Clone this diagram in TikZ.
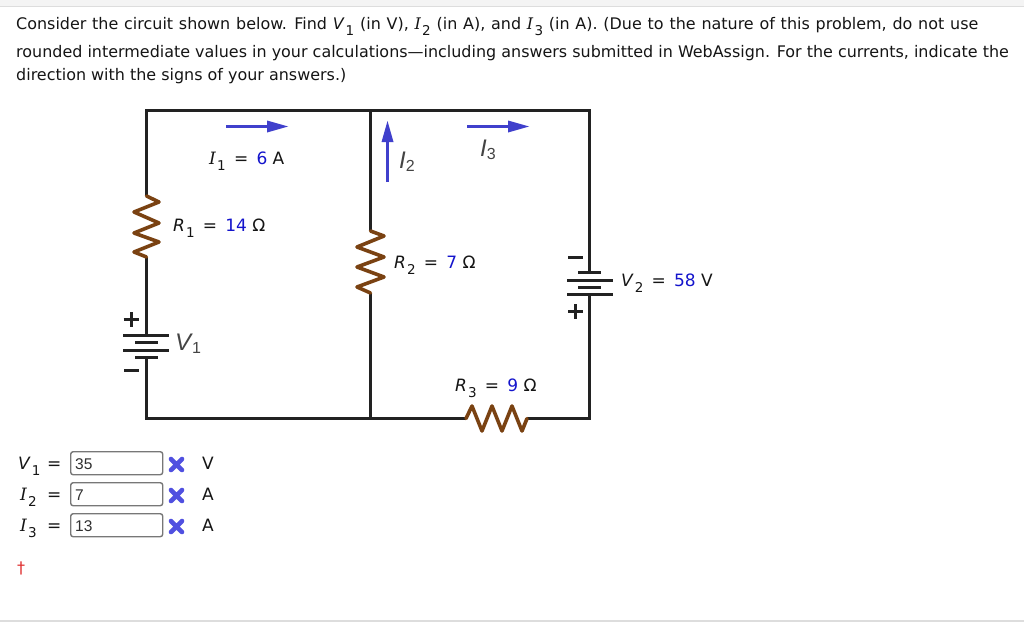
\documentclass[tikz,border=0pt]{standalone}
\usepackage{fontspec}
\setmainfont{DejaVu Sans}
\newfontfamily\serifI{DejaVu Serif}
\newfontfamily\arialf{Liberation Sans}
\definecolor{wirec}{HTML}{222222}
\definecolor{resc}{HTML}{7A4212}
\definecolor{arrc}{HTML}{4040CC}
\definecolor{valc}{HTML}{1414CC}
\definecolor{txtc}{HTML}{151515}
\definecolor{grayl}{HTML}{444444}
\definecolor{xc}{HTML}{5050E0}
\definecolor{boxc}{HTML}{777777}
\definecolor{bandc}{HTML}{F4F4F4}
\definecolor{rulec}{HTML}{DDDDDD}
\definecolor{daggerc}{HTML}{E03030}
\newcommand{\subn}[1]{\raisebox{-6pt}{\fontsize{13.5}{13.5}\selectfont #1}}
\newcommand{\varV}[1]{\textit{V}\kern1pt\subn{#1}}
\newcommand{\varR}[1]{\textit{R}\kern1pt\subn{#1}}
\newcommand{\varI}[1]{{\serifI\textit{I}}\kern1pt\subn{#1}}
\newcommand{\val}[1]{\textcolor{valc}{#1}}
\tikzset{
  x=1pt,y=-1pt,
  wire/.style={draw=wirec,line width=3pt,line join=miter,line cap=butt},
  resistor/.style={draw=resc,line width=3.6pt,line join=round,line cap=round},
  plate/.style={draw=wirec,line width=2.4pt},
  sign/.style={draw=wirec,line width=3.2pt},
  current/.style={draw=arrc,line width=3pt},
  tipc/.style={fill=arrc,draw=none},
  para/.style={anchor=base west,inner sep=0pt,text=txtc,font=\fontsize{15.95}{18}\selectfont},
  lab/.style={anchor=base west,inner sep=0pt,text=txtc,font=\fontsize{17}{18}\selectfont},
  glab/.style={anchor=base west,inner sep=0pt,text=grayl,font=\arialf\fontsize{24}{24}\selectfont},
  ansbox/.style={draw=boxc,line width=1.4pt,rounded corners=2.5pt,anchor=north west,minimum width=92pt,minimum height=23pt,inner sep=0pt},
  anstxt/.style={anchor=base west,inner sep=0pt,text=grayl!70!black,font=\arialf\fontsize{15.5}{15.5}\selectfont},
  wrong/.style={draw=xc,line width=4.6pt,line cap=round},
}
\begin{document}
\begin{tikzpicture}
\useasboundingbox (0,0) rectangle (1024,642);
\fill[white] (0,0) rectangle (1024,642);
\fill[bandc] (0,0) rectangle (1024,6);
\draw[rulec,line width=1.4pt] (0,6.5) -- (1024,6.5);
\draw[rulec,line width=1.4pt] (0,621) -- (1024,621);

% question text
\node[para] (q1) at (16,30) {\spaceskip=5.8pt plus 1pt Consider the circuit shown below. Find \varV{1} (in V), \varI{2} (in A), and \varI{3} (in A). (Due to the nature of this problem, do not use};
\node[para] (q2) at (16,58) {rounded intermediate values in your calculations---including answers submitted in WebAssign. For the currents, indicate the};
\node[para] (q3) at (16,80) {direction with the signs of your answers.)};

% junctions
\coordinate (tl) at (146.5,110.5);
\coordinate (tm) at (370.5,110.5);
\coordinate (tr) at (589.5,110.5);
\coordinate (bl) at (146.5,418.5);
\coordinate (bm) at (370.5,418.5);
\coordinate (br) at (589.5,418.5);
\coordinate (r1a) at (146.5,196);
\coordinate (r1b) at (146.5,257);
\coordinate (r2a) at (370.5,231);
\coordinate (r2b) at (370.5,293);
\coordinate (r3a) at (466,418.5);
\coordinate (r3b) at (527,418.5);
\coordinate (b1a) at (146.5,335);
\coordinate (b1b) at (146.5,357);
\coordinate (b2a) at (589.5,272);
\coordinate (b2b) at (589.5,294);

% wires
\draw[wire] (r1a) -- (tl) -- (tr) -- (b2a);
\draw[wire] (b2b) -- (br) -- (r3b);
\draw[wire] (r3a) -- (bl) -- (b1b);
\draw[wire] (b1a) -- (r1b);
\draw[wire] (tm) -- (r2a);
\draw[wire] (r2b) -- (bm);

% resistors
\draw[resistor] (r1a) -- (159,202) -- (134,212) -- (159,223) -- (134,233) -- (159,242) -- (134,252) -- (r1b);
\draw[resistor] (r2a) -- (384,236) -- (357,247) -- (384,257) -- (357,267) -- (384,277) -- (357,287) -- (r2b);
\draw[resistor] (r3a) -- (472,406) -- (482,431) -- (492,406) -- (502,431) -- (512,406) -- (522,431) -- (r3b);

% battery 1
\draw[plate] (123,335.5) -- (169,335.5);
\draw[plate] (135,342.5) -- (158,342.5);
\draw[plate] (123,350.5) -- (169,350.5);
\draw[plate] (135,357.5) -- (158,357.5);
\draw[sign] (123.5,319.5) -- (139,319.5);
\draw[sign] (131.5,312) -- (131.5,327);
\draw[sign] (124,370.5) -- (139,370.5);

% battery 2
\draw[plate] (578,272.5) -- (601,272.5);
\draw[plate] (567,280.5) -- (613,280.5);
\draw[plate] (578,287.5) -- (601,287.5);
\draw[plate] (567,294.5) -- (613,294.5);
\draw[sign] (568,257.5) -- (583,257.5);
\draw[sign] (568,311.5) -- (583,311.5);
\draw[sign] (575.5,304) -- (575.5,319);

% current arrows
\coordinate (a1s) at (226,126.5); \coordinate (a1e) at (267,126.5);
\coordinate (a3s) at (467,126.5); \coordinate (a3e) at (508,126.5);
\coordinate (a2s) at (387.5,182); \coordinate (a2e) at (387.5,142);
\draw[current] (a1s) -- (a1e);
\draw[current] (a3s) -- (a3e);
\draw[current] (a2s) -- (a2e);
\fill[tipc] (267,120.5) -- (288,126.5) -- (267,132.5) -- cycle;
\fill[tipc] (508,120.5) -- (529,126.5) -- (508,132.5) -- cycle;
\fill[tipc] (381.5,142) -- (387.5,121) -- (393.5,142) -- cycle;

% circuit labels
\node[lab] (li1) at (209,164) {\varI{1} \,=\, \val{6} A};
\node[lab] (lr1) at (173,231) {\varR{1} \,=\, \val{14} Ω};
\node[lab] (lr2) at (394,268) {\varR{2} \,=\, \val{7} Ω};
\node[lab] (lr3) at (455,391) {\varR{3} \,=\, \val{9} Ω};
\node[lab] (lv2) at (621,286) {\varV{2} \,=\, \val{58} V};
\node[glab] (lv1) at (175,350) {\textit{V}\kern-1pt\raisebox{-3pt}{\fontsize{16}{16}\selectfont 1}};
\node[glab] (li2) at (399,168) {\textit{I}\raisebox{-3pt}{\fontsize{16}{16}\selectfont 2}};
\node[glab] (li3) at (480,156) {\textit{I}\raisebox{-3pt}{\fontsize{16}{16}\selectfont 3}};

% answers
\node[lab] (av1) at (18,469) {\varV{1}};
\node[lab] (aeq1) at (47,469) {=};
\node[ansbox] (box1) at (70,451) {};
\node[anstxt] (t1) at (75,469) {35};
\node[lab] (u1) at (202,469) {V};
\node[lab] (av2) at (20,500) {\varI{2}};
\node[lab] (aeq2) at (47,500) {=};
\node[ansbox] (box2) at (70,482) {};
\node[anstxt] (t2) at (75,500) {7};
\node[lab] (u2) at (202,500) {A};
\node[lab] (av3) at (20,531) {\varI{3}};
\node[lab] (aeq3) at (47,531) {=};
\node[ansbox] (box3) at (70,513) {};
\node[anstxt] (t3) at (75,531) {13};
\node[lab] (u3) at (202,531) {A};

\draw[wrong] (171,459) -- (182,470) (182,459) -- (171,470);
\draw[wrong] (171,490) -- (182,501) (182,490) -- (171,501);
\draw[wrong] (171,521) -- (182,532) (182,521) -- (171,532);

\node[anchor=base,inner sep=0pt,text=daggerc,font=\fontsize{16}{16}\selectfont] (dag) at (21,573) {†};
\end{tikzpicture}
\end{document}
